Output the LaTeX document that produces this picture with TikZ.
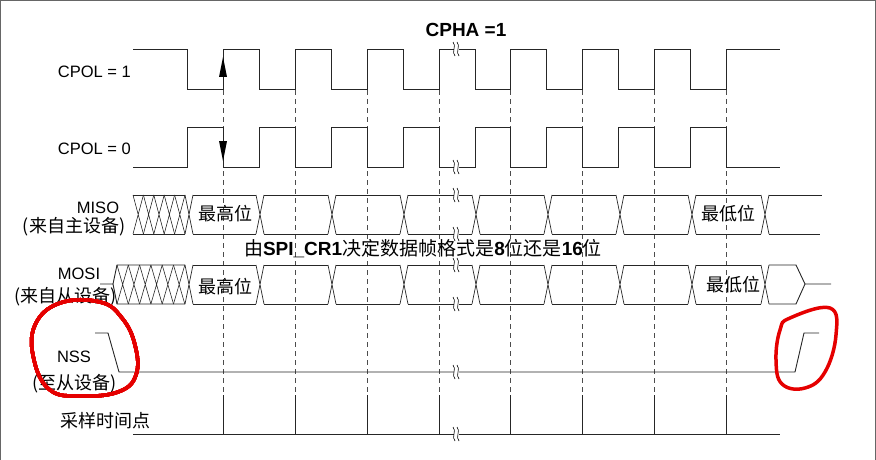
\documentclass[tikz,border=0pt]{standalone}
\usepackage{fontspec}
\setmainfont{Liberation Sans}
\newfontfamily\cjk{Noto Sans CJK SC}
\usetikzlibrary{arrows.meta}
\begin{document}
\begin{tikzpicture}[x=1pt,y=-1pt,
  sig/.style={line width=0.9pt,black!85},
  grid/.style={black!70,line width=0.5pt,dash pattern=on 5pt off 4pt},
  lbl/.style={font=\fontsize{16.5}{16.5}\selectfont,inner sep=0pt},
  cj/.style={font=\cjk\fontsize{18}{18}\selectfont,inner sep=0pt},
  ahead/.style={fill=black},
  ann/.style={red!90!black,line width=3.5pt,line cap=round,line join=round}]
\useasboundingbox (0,0) rectangle (876,460);
\draw[black!60,line width=1pt] (0.5,460) -- (0.5,0.5) -- (875.5,0.5) -- (875.5,460);
\newcommand\brkmark[2]{%
  \fill[white] (#1-2.5,#2-6) rectangle (#1+2.5,#2+6);
  \draw[line width=0.6pt] (#1-3,#2-7) .. controls (#1+1,#2-3) and (#1-5,#2+3) .. (#1-1,#2+7);
  \draw[line width=0.6pt] (#1+1,#2-7) .. controls (#1+5,#2-3) and (#1-1,#2+3) .. (#1+3,#2+7);}
% dashed sampling guides
\foreach \x in {223,295,367,439,510,582,654,726}
  \draw[grid] (\x,90) -- (\x,395);
% title
\node[font=\bfseries\fontsize{19}{19}\selectfont,inner sep=0pt] (title) at (466,30) {CPHA =1};
% CPOL=1
\node[lbl,anchor=east] (c1) at (131,72) {CPOL = 1};
\draw[sig] (133,49) -- (187,49) -- (187,89) -- (223,89) -- (223,49)
  \foreach \a/\b in {259/295,331/367,403/439,475/510,546/582,618/654,690/726}{ -- (\a,49) -- (\a,89) -- (\b,89) -- (\b,49)} -- (780,49);
% CPOL=0
\node[lbl,anchor=east] (c0) at (131,149) {CPOL = 0};
\draw[sig] (133,167) -- (187,167) -- (187,127) -- (223,127) -- (223,167)
  \foreach \a/\b in {259/295,331/367,403/439,475/510,546/582,618/654,690/726}{ -- (\a,167) -- (\a,127) -- (\b,127) -- (\b,167)} -- (780,167);
\fill[ahead] (223,57) -- (219,77) -- (227,77) -- cycle;
\fill[ahead] (223,161) -- (219,141) -- (227,141) -- cycle;
% MISO
\node[lbl] (miso) at (98,208) {MISO};
\node[cj] (misos) at (74,227) {(来自主设备)};
\foreach \x in {133,143.4,153.8,164.2,174.6}{
  \draw[sig,line width=0.6pt] (\x,195) -- (\x+10.4,234) (\x,234) -- (\x+10.4,195);}
\draw[sig] (133,195) -- (185,195) (133,234) -- (185,234);
\foreach \t in {189,260,332,404,476,548,620,692,765}
  \draw[sig,line width=0.7pt] (\t-4,195) -- (\t+4,234) (\t-4,234) -- (\t+4,195);
\foreach \a/\b in {189/260,260/332,332/404,404/476,476/548,548/620,620/692,692/765}
  \draw[sig] (\a+4,195) -- (\b-4,195) (\a+4,234) -- (\b-4,234);
\draw[sig] (769,195) -- (822,195) (769,234) -- (820,234);
\node[cj] (m1) at (225,214) {最高位};
\node[cj] (m2) at (728,214) {最低位};
% middle text
\node[inner sep=0pt,font=\cjk\fontsize{19}{19}\selectfont] (fmt) at (423,249) {由\textbf{\fontspec{Liberation Sans}SPI\_CR1}决定数据帧格式是\textbf{\fontspec{Liberation Sans}8}位还是\textbf{\fontspec{Liberation Sans}16}位};
% MOSI
\node[lbl] (mosi) at (79,274) {MOSI};
\node[cj] (mosis) at (66,297) {(来自从设备)};
\draw[sig] (100,284) -- (113,284) -- (117,265) -- (185,265) (113,284) -- (117,304) -- (185,304);
\foreach \x in {117,128.3,139.6,150.9,162.2,173.5}{
  \draw[sig,line width=0.6pt] (\x,265) -- (\x+11.3,304) (\x,304) -- (\x+11.3,265);}
\foreach \t in {189,260,332,404,476,548,620,692,765}
  \draw[sig,line width=0.7pt] (\t-4,265) -- (\t+4,304) (\t-4,304) -- (\t+4,265);
\foreach \a/\b in {189/260,260/332,332/404,404/476,476/548,548/620,620/692,692/765}
  \draw[sig] (\a+4,265) -- (\b-4,265) (\a+4,304) -- (\b-4,304);
\draw[sig] (769,265) -- (796,265) -- (805,284) -- (831,284) (769,304) -- (796,304) -- (805,284);
\node[cj] (o1) at (225,287) {最高位};
\node[cj] (o2) at (733,285) {最低位};
% NSS
\node[lbl] (nss) at (74,357) {NSS};
\node[cj] (nsss) at (75,384) {(至从设备)};
\draw[sig] (95,333) -- (108,333) -- (119,372) -- (795,372) -- (804,333) -- (819,333);
% sampling
\node[cj] (samp) at (105,421) {采样时间点};
\draw[sig] (133,434) -- (780,434);
\foreach \x in {223,295,367,439,510,582,654,726}
  \draw[sig] (\x,395) -- (\x,434);
% break marks
\foreach \y in {49,167,195,234,265,304,372,434} \brkmark{456}{\y}
% red annotations
\draw[ann] plot[smooth cycle,tension=0.7] coordinates {(60,303) (100,302) (122,318) (135,345) (136,375) (118,392) (80,396) (50,390) (34,360) (35,325)};
\draw[ann] plot[smooth cycle,tension=0.7] coordinates {(790,318) (830,308) (836,335) (825,372) (805,388) (782,384) (776,360) (780,330)};
\end{tikzpicture}
\end{document}
